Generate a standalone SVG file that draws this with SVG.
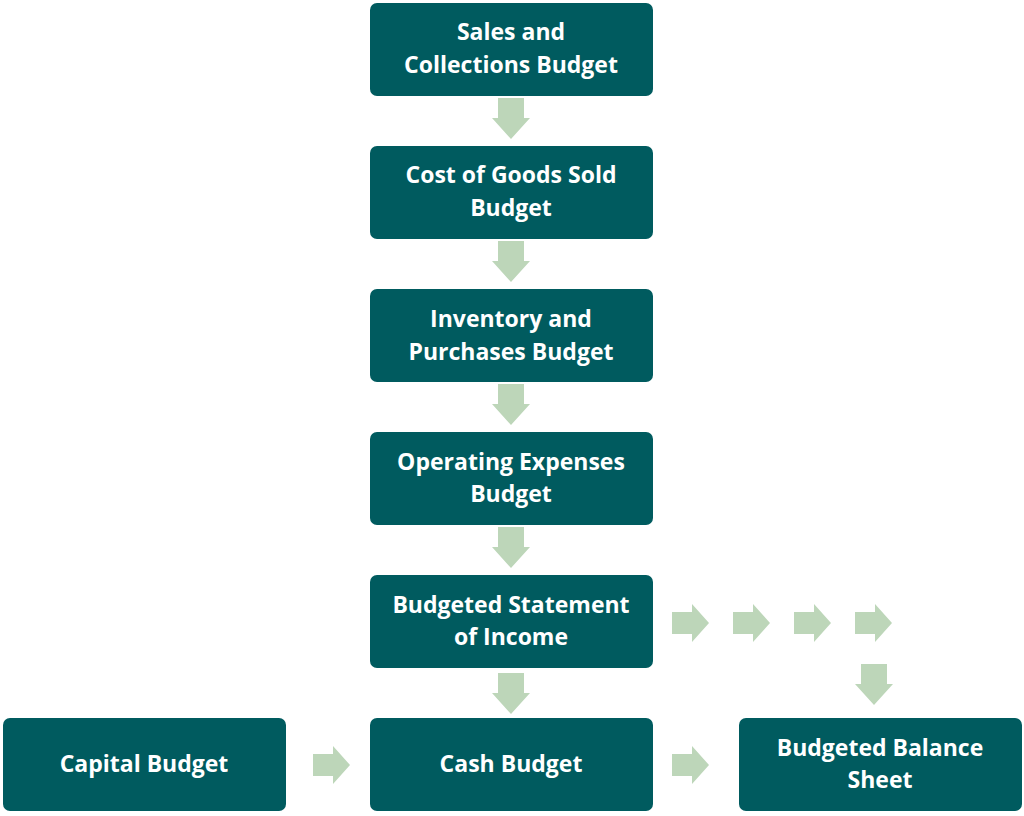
<svg xmlns="http://www.w3.org/2000/svg" width="1024" height="816" viewBox="0 0 1024 816">
<style>
.b{fill:#005b5f}
.t{font-family:"Open Sans","Liberation Sans",sans-serif;font-weight:bold;font-size:23px;fill:#fff;text-anchor:middle}
.a{fill:#bdd6b9}
</style>
<defs>
<path id="dn" d="M6 0H32V20H38L19 41L0 20H6Z"/>
<path id="rt" d="M0 8H20V0L37 19L20 38V30H0Z"/>
</defs>
<rect width="1024" height="816" fill="#fff"/>
<g id="connectors" class="a">
<use href="#dn" x="492" y="98"/>
<use href="#dn" x="492" y="241"/>
<use href="#dn" x="492" y="384"/>
<use href="#dn" x="492" y="527"/>
<use href="#dn" x="492" y="673"/>
<use href="#rt" x="672" y="604"/>
<use href="#rt" x="733" y="604"/>
<use href="#rt" x="794" y="604"/>
<use href="#rt" x="855" y="604"/>
<use href="#dn" x="855" y="664"/>
<use href="#rt" x="313" y="746"/>
<use href="#rt" x="672" y="746"/>
</g>
<g id="n1"><rect class="b" x="370" y="3" width="283" height="93" rx="7"/><text class="t" x="511" y="40">Sales and</text><text class="t" x="511" y="73">Collections Budget</text></g>
<g id="n2"><rect class="b" x="370" y="146" width="283" height="93" rx="7"/><text class="t" x="511" y="183">Cost of Goods Sold</text><text class="t" x="511" y="216">Budget</text></g>
<g id="n3"><rect class="b" x="370" y="289" width="283" height="93" rx="7"/><text class="t" x="511" y="327">Inventory and</text><text class="t" x="511" y="360">Purchases Budget</text></g>
<g id="n4"><rect class="b" x="370" y="432" width="283" height="93" rx="7"/><text class="t" x="511" y="470">Operating Expenses</text><text class="t" x="511" y="502">Budget</text></g>
<g id="n5"><rect class="b" x="370" y="575" width="283" height="93" rx="7"/><text class="t" x="511" y="613">Budgeted Statement</text><text class="t" x="511" y="645">of Income</text></g>
<g id="n6"><rect class="b" x="370" y="718" width="283" height="93" rx="7"/><text class="t" x="511" y="772">Cash Budget</text></g>
<g id="n7"><rect class="b" x="3" y="718" width="283" height="93" rx="7"/><text class="t" x="144" y="772">Capital Budget</text></g>
<g id="n8"><rect class="b" x="739" y="718" width="283" height="93" rx="7"/><text class="t" x="880" y="756">Budgeted Balance</text><text class="t" x="880" y="788">Sheet</text></g>
</svg>
